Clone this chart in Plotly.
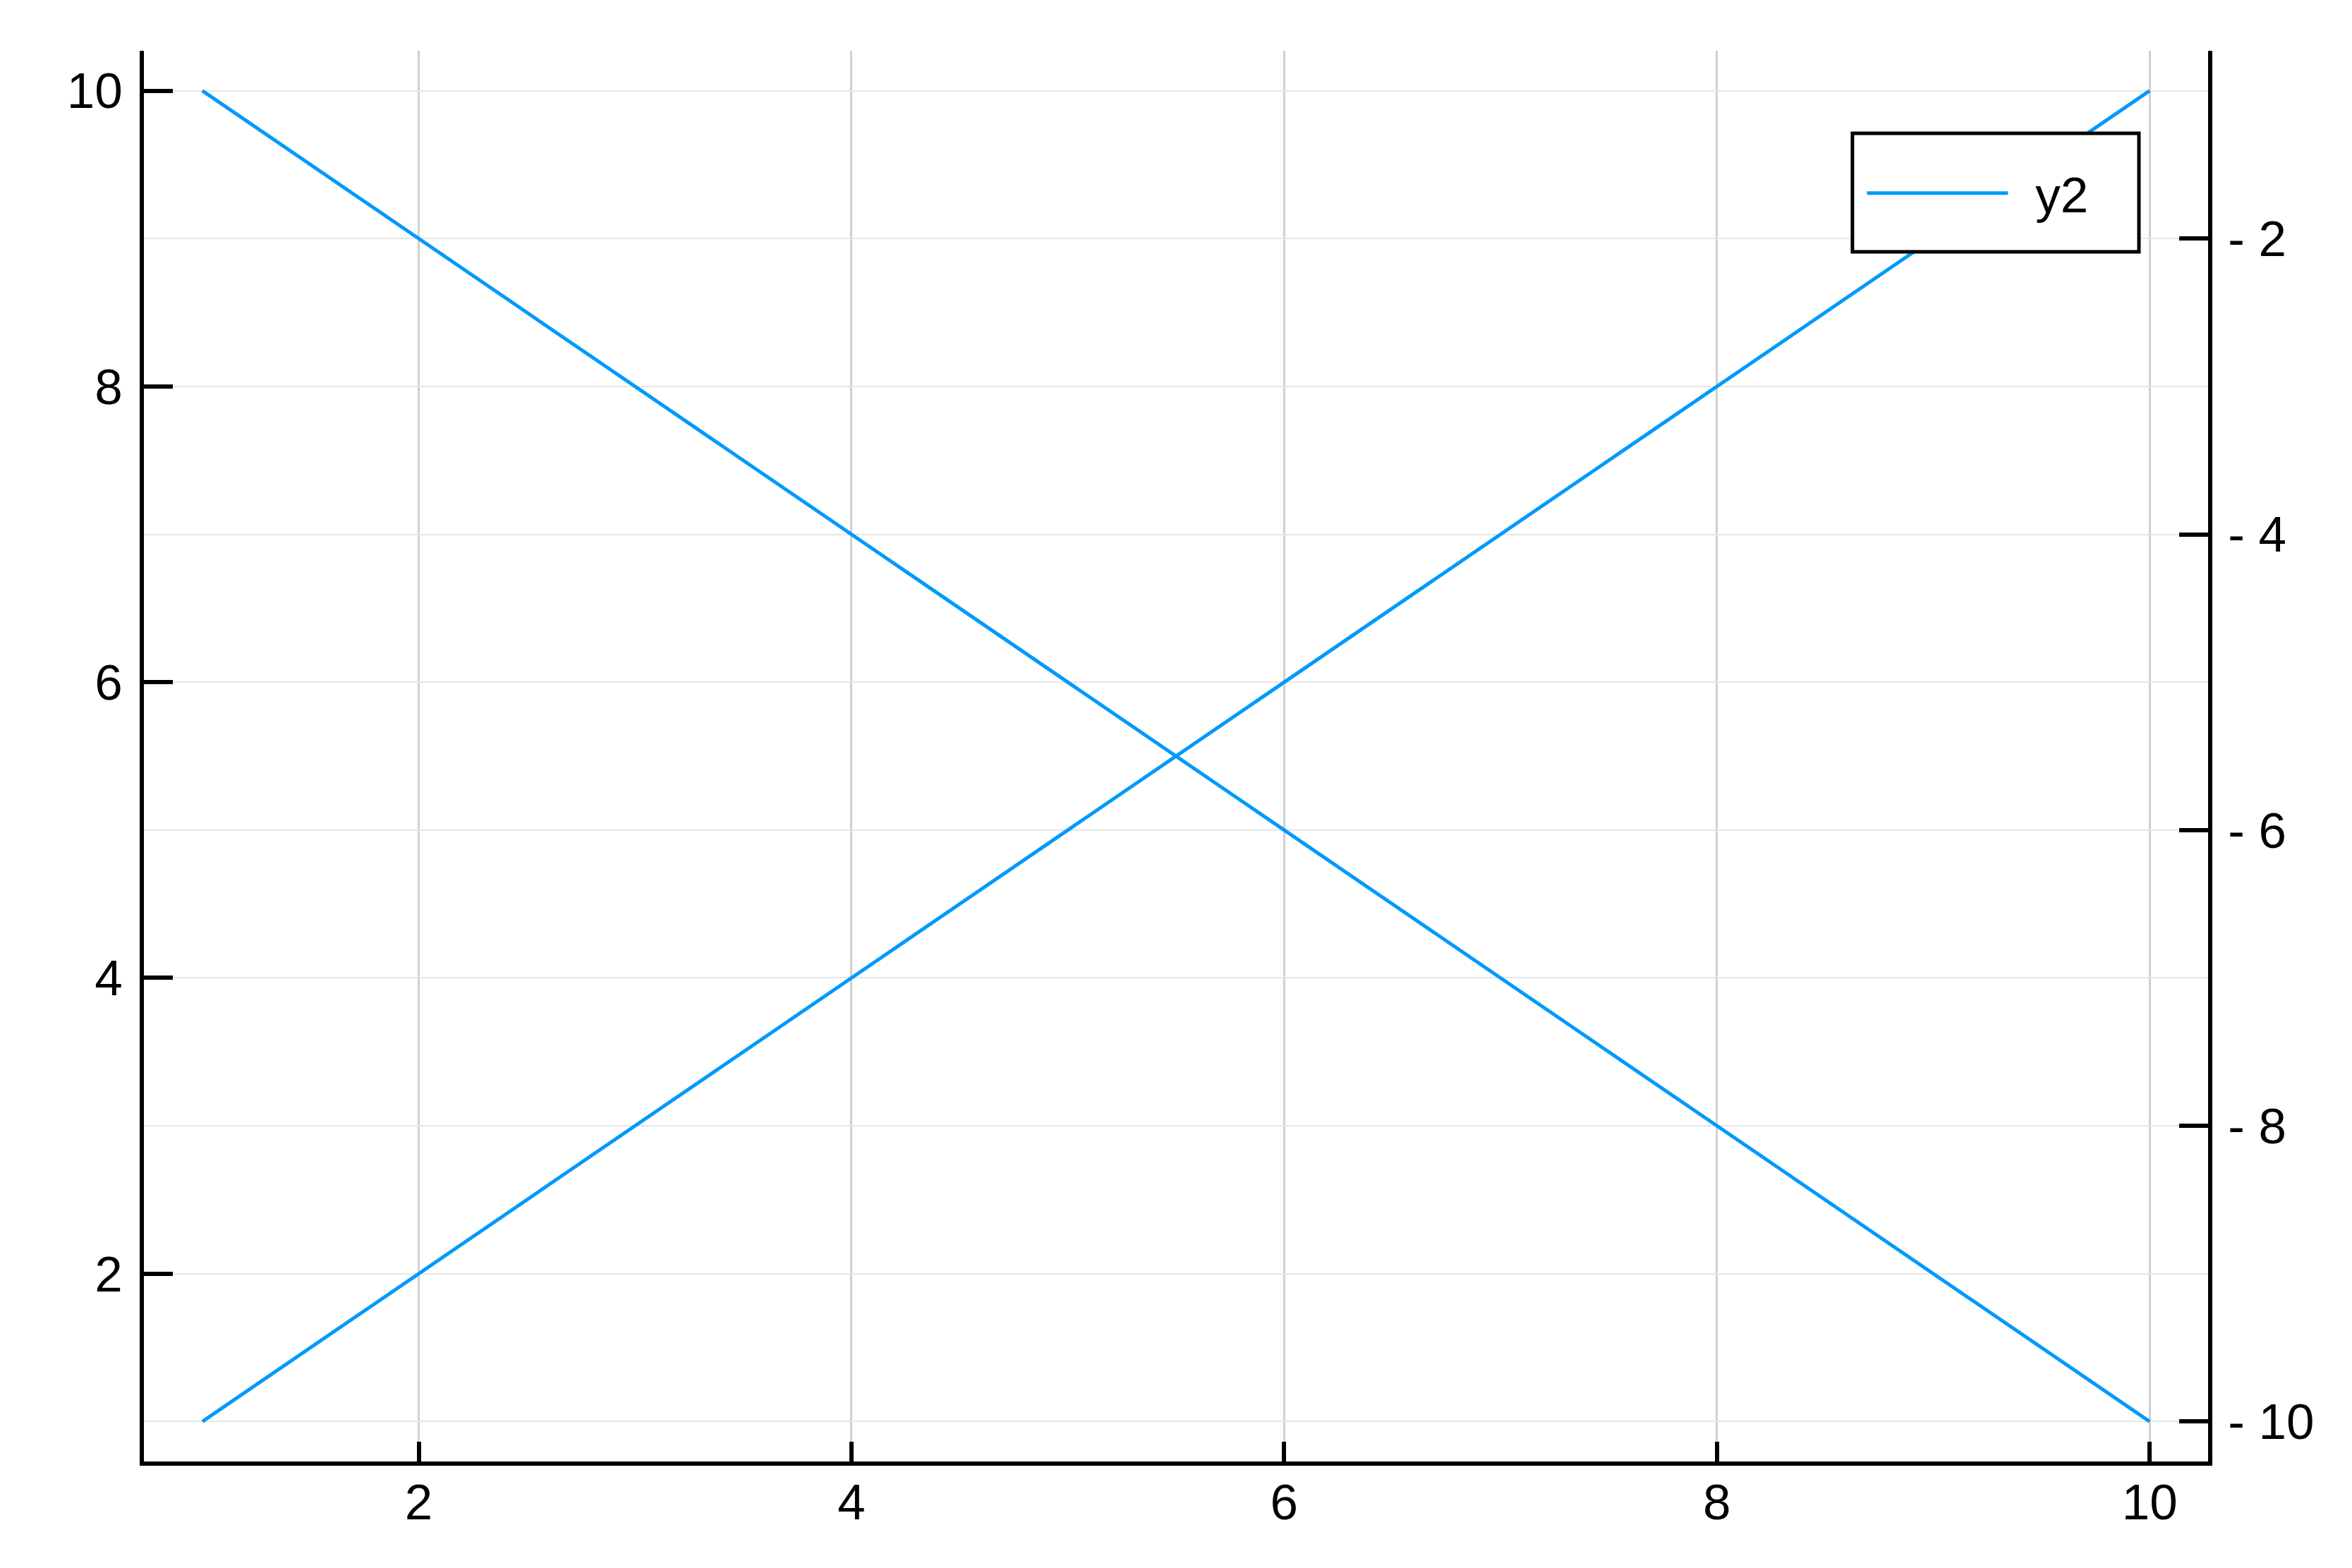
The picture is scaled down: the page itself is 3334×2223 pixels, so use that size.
import plotly.graph_objects as go

# data
x = [1, 2, 3, 4, 5, 6, 7, 8, 9, 10]
y1 = [1, 2, 3, 4, 5, 6, 7, 8, 9, 10]
y2 = [-1, -2, -3, -4, -5, -6, -7, -8, -9, -10]

x_ticks = [2, 4, 6, 8, 10]
y_ticks = [2, 4, 6, 8, 10]
y2_ticks = [-10, -8, -6, -4, -2]
y2_labels = ["- 10", "- 8", "- 6", "- 4", "- 2"]

line_color = "#009AFA"
font = dict(family="Liberation Sans, Arial, sans-serif", size=71, color="black")

fig = go.Figure()

fig.add_trace(go.Scatter(
    x=x, y=y1, mode="lines", name="y1",
    line=dict(color=line_color, width=5),
    showlegend=False,
))
fig.add_trace(go.Scatter(
    x=x, y=y2, mode="lines", name="\u00a0\u2009y2",
    line=dict(color=line_color, width=5),
    yaxis="y2",
))

axis_common = dict(
    showline=True, linecolor="black", linewidth=6,
    ticks="inside", tickcolor="black", tickwidth=6,
    zeroline=False, mirror=False,
    tickfont=font,
)

fig.update_layout(
    width=3334, height=2223,
    margin=dict(l=196, r=212, t=64, b=159),
    paper_bgcolor="white", plot_bgcolor="white",
    font=font,
    xaxis=dict(
        range=[0.73, 10.27], tickvals=x_ticks, ticklen=28,
        showgrid=True, gridcolor="#d0d0d0", gridwidth=3,
        ticklabelstandoff=-9,
        **axis_common,
    ),
    yaxis=dict(
        range=[0.73, 10.27], tickvals=y_ticks, ticklen=41,
        showgrid=True, gridcolor="#e6e6e6", gridwidth=2,
        ticklabelstandoff=10,
        **axis_common,
    ),
    yaxis2=dict(
        range=[-10.27, -0.73], tickvals=y2_ticks, ticktext=y2_labels,
        ticklen=41, overlaying="y", side="right",
        showgrid=True, gridcolor="#e6e6e6", gridwidth=2,
        ticklabelstandoff=8,
        **axis_common,
    ),
    # legend frame drawn as a box, legend entry sits inside it
    shapes=[dict(
        type="rect", xref="paper", yref="paper",
        x0=0.8277, x1=0.9665, y0=0.8575, y1=0.9415,
        fillcolor="white", line=dict(color="black", width=5),
        layer="above",
    )],
    legend=dict(
        x=0.833, y=0.899, xanchor="left", yanchor="middle",
        bgcolor="rgba(0,0,0,0)", borderwidth=0,
        font=font, itemwidth=200,
    ),
)

fig.write_html("out.html")
